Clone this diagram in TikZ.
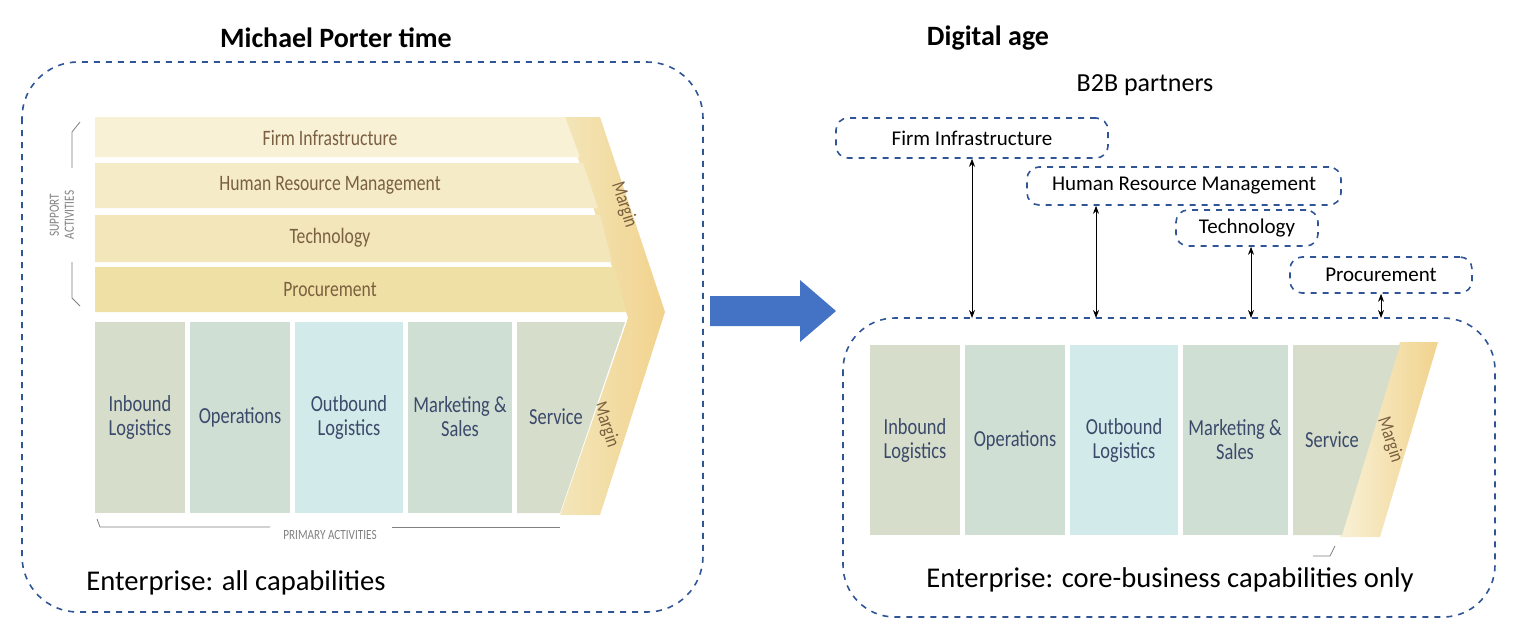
\documentclass[tikz,border=0pt]{standalone}
\usepackage{fontspec}
\setmainfont{Carlito}
\newfontfamily\narrowf{Carlito}[FakeStretch=0.8]
\usetikzlibrary{arrows.meta}
\definecolor{frame}{HTML}{2F5597}
\definecolor{supA}{HTML}{F8F1D6}
\definecolor{supB}{HTML}{F5EBC6}
\definecolor{supC}{HTML}{F3E6BA}
\definecolor{supD}{HTML}{EFE1A6}
\definecolor{priA}{HTML}{D6DDCB}
\definecolor{priB}{HTML}{D0DFD3}
\definecolor{priC}{HTML}{D2EAE9}
\definecolor{suptxt}{HTML}{7A6040}
\definecolor{pritxt}{HTML}{3B4A6B}
\definecolor{bluearr}{HTML}{4472C4}
\tikzset{
  dashbox/.style={draw=frame, dashed, thick, rounded corners=6pt},
  suplabel/.style={text=suptxt, font=\narrowf\fontsize{11}{12}\selectfont},
  prilabel/.style={text=pritxt, font=\narrowf\fontsize{11.5}{12}\selectfont, align=center},
  marginlabel/.style={text=suptxt, font=\narrowf\fontsize{10}{11}\selectfont},
  boxlabel/.style={font=\fontsize{10.5}{12}\selectfont},
}
\begin{document}
\begin{tikzpicture}[x=0.5pt, y=-0.5pt]
        \useasboundingbox (0,0) rectangle (1524,627);
        % Titulos
        \node[font=\bfseries\fontsize{14}{16}\selectfont] (tleft) at (336,38) {Michael Porter time};
        \node[font=\bfseries\fontsize{14}{16}\selectfont] (tright) at (988,38) {Digital age};

        % Marco izquierdo
        \draw[dashbox, rounded corners=28pt] (22,62) rectangle (703,612);
        % Chevron de margen
        \shade[left color=supC, right color=supD!85!orange] (565,117) -- (600,117) -- (665,312) -- (600,515) -- (560,515) -- (628,318) -- cycle;
        % Actividades de soporte
        \fill[supA] (95,117) -- (565,117) -- (580,157) -- (95,157) -- cycle;
        \fill[supB] (95,163) -- (583,163) -- (598,208) -- (95,208) -- cycle;
        \fill[supC] (95,215) -- (600,215) -- (612,262) -- (95,262) -- cycle;
        \fill[supD] (95,267) -- (614,267) -- (626,312) -- (95,312) -- cycle;
        \node[suplabel] (s1) at (330,138) {Firm Infrastructure};
        \node[suplabel] (s2) at (330,185) {Human Resource Management};
        \node[suplabel] (s3) at (330,238) {Technology};
        \node[suplabel] (s4) at (330,290) {Procurement};
        \node[marginlabel, rotate=-72, inner sep=0pt] (m1) at (624,205) {Margin};
        \node[marginlabel, rotate=-72, inner sep=0pt] (m2) at (606,425) {Margin};
        % Actividades primarias
        \fill[priA] (95,322) rectangle (185,513);
        \fill[priB] (190,322) rectangle (290,513);
        \fill[priC] (295,322) rectangle (403,513);
        \fill[priB] (408,322) rectangle (512,513);
        \fill[priA] (517,322) -- (625,322) -- (560,513) -- (517,513) -- cycle;
        \node[prilabel] (p1) at (140,417) {Inbound\\Logistics};
        \node[prilabel] (p2) at (240,417) {Operations};
        \node[prilabel] (p3) at (349,417) {Outbound\\Logistics};
        \node[prilabel] (p4) at (460,417) {Marketing \&\\Sales};
        \node[prilabel] (p5) at (556,417) {Service};
        % Llaves
        \draw[gray] (80,122) -- (72,132) -- (72,168);
        \draw[gray] (72,262) -- (72,298) -- (80,306);
        \node[gray, rotate=90, align=center, font=\narrowf\fontsize{7}{7.5}\selectfont] (sa) at (62,215) {SUPPORT\\ACTIVITIES};
        \draw[gray] (97,519) -- (100,527) -- (270,527);
        \draw[gray] (392,527) -- (560,527);
        \node[gray, font=\narrowf\fontsize{7}{8}\selectfont] (pa) at (330,535) {PRIMARY ACTIVITIES};
        \node[font=\fontsize{14.3}{16}\selectfont] (eleft) at (236,583) {Enterprise: all capabilities};

        % Flecha de transicion
        \fill[bluearr] (710,296) -- (800,296) -- (800,280) -- (836,311) -- (800,342) -- (800,326) -- (710,326) -- cycle;

        % Lado derecho
        \node[font=\fontsize{13}{15}\selectfont] (b2b) at (1145,85) {B2B partners};
        \node[dashbox, boxlabel, minimum width=136pt, minimum height=20pt] (f1) at (972,138) {Firm Infrastructure};
        \node[dashbox, boxlabel, minimum width=157pt, minimum height=19pt] (f2) at (1184,186) {Human Resource Management};
        \node[dashbox, boxlabel, minimum width=71pt, minimum height=18pt] (f3) at (1247,228) {Technology};
        \node[dashbox, boxlabel, minimum width=91pt, minimum height=18pt] (f4) at (1381,275) {Procurement};
        \draw[dashbox, rounded corners=26pt] (843,318) rectangle (1495,617);
        \coordinate (c1) at (972,318);
        \coordinate (c2) at (1096,318);
        \coordinate (c3) at (1251,318);
        \coordinate (c4) at (1381,318);
        \draw[{Stealth[length=4pt]}-{Stealth[length=4pt]}] (f1.south) -- (c1);
        \draw[{Stealth[length=4pt]}-{Stealth[length=4pt]}] (f2.south -| c2) -- (c2);
        \draw[{Stealth[length=4pt]}-{Stealth[length=4pt]}] (f3.south -| c3) -- (c3);
        \draw[{Stealth[length=4pt]}-{Stealth[length=4pt]}] (f4.south) -- (c4);
        % Actividades primarias (derecha)
        \shade[left color=supA, right color=supD!85!orange] (1400,342) -- (1438,342) -- (1380,537) -- (1340,537) -- cycle;
        \fill[priA] (870,345) rectangle (960,535);
        \fill[priB] (965,345) rectangle (1065,535);
        \fill[priC] (1070,345) rectangle (1178,535);
        \fill[priB] (1183,345) rectangle (1288,535);
        \fill[priA] (1293,345) -- (1400,345) -- (1342,535) -- (1293,535) -- cycle;
        \node[prilabel] (q1) at (915,440) {Inbound\\Logistics};
        \node[prilabel] (q2) at (1015,440) {Operations};
        \node[prilabel] (q3) at (1124,440) {Outbound\\Logistics};
        \node[prilabel] (q4) at (1235,440) {Marketing \&\\Sales};
        \node[prilabel] (q5) at (1332,440) {Service};
        \node[marginlabel, rotate=-72, inner sep=0pt] (m3) at (1390,440) {Margin};
        \draw[gray] (1313,556) -- (1330,556) -- (1335,546);
        \node[font=\fontsize{14.3}{16}\selectfont] (eright) at (1170,580) {Enterprise: core-business capabilities only};
    \end{tikzpicture}
\end{document}
